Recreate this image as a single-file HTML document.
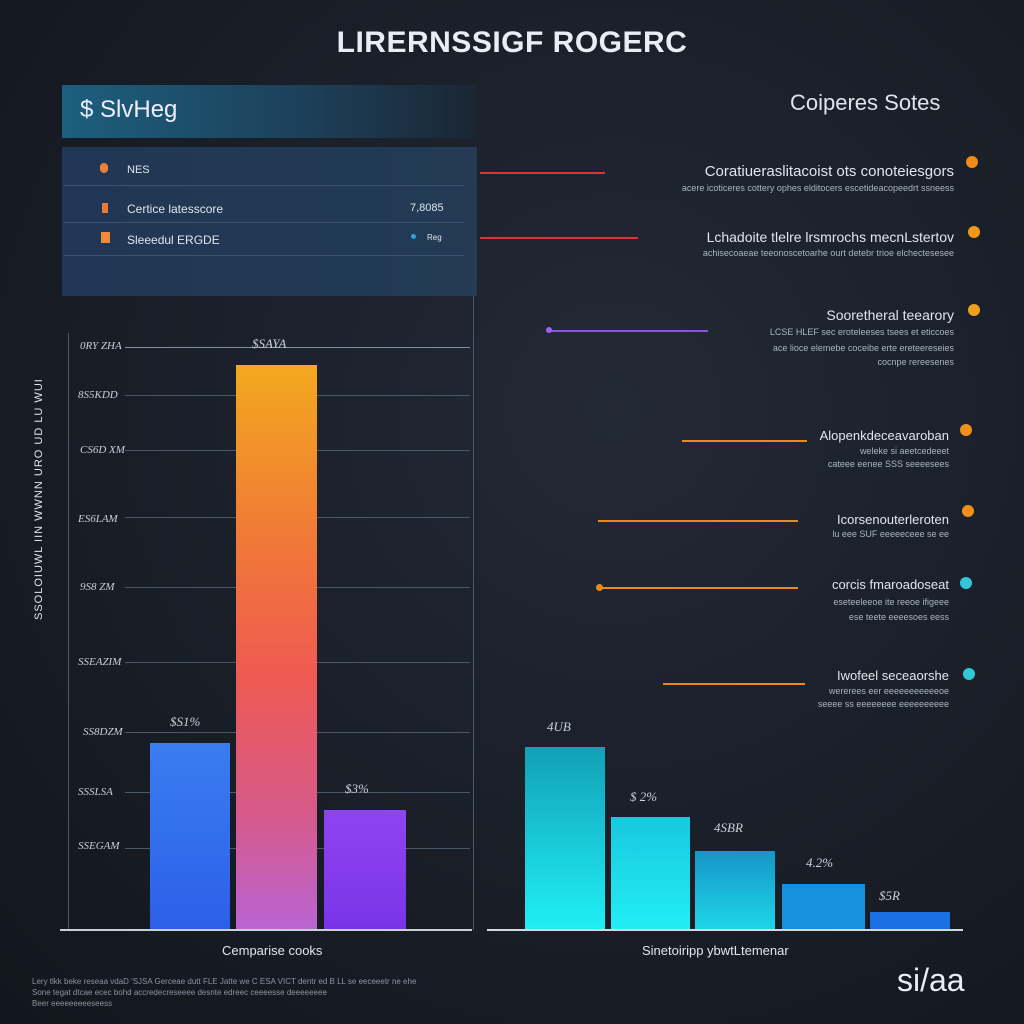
<!DOCTYPE html>
<html><head><style>
body{margin:0;width:1024px;height:1024px;background:radial-gradient(ellipse at 60% 40%,#232a36 0%,#181d26 60%,#12161d 100%);font-family:"Liberation Sans",sans-serif;position:relative;overflow:hidden;color:#dfe6ee}
.a{position:absolute}
.g{position:absolute;height:1px;background:#4a5868;left:125px;width:345px}
.t{position:absolute;font-family:"Liberation Serif",serif;font-style:italic;font-size:11px;color:#c8d0da}
.r{position:absolute;text-align:right;right:70px}
.s{font-size:9px;color:#aab4c0}
.dot{position:absolute;width:12px;height:12px;border-radius:50%}
.ln{position:absolute;height:2px}
</style></head><body>
<div class="a" style="left:0;top:26px;width:1024px;text-align:center;font-size:30px;font-weight:bold;color:#e8eef5;letter-spacing:0.5px">LIRERNSSIGF ROGERC</div>
<div class="a" style="left:62px;top:85px;width:415px;height:53px;background:linear-gradient(90deg,#1c5f7e,#1d3f58 60%,#1a2634)"></div>
<div class="a" style="left:80px;top:96px;font-size:24px;color:#eef">$ SlvHeg</div>
<div class="a" style="left:62px;top:147px;width:415px;height:149px;background:linear-gradient(90deg,#213654,#223955 70%,#243a55)"></div>
<div class="a" style="left:100px;top:163px;width:8px;height:10px;background:#e8803a;border-radius:4px"></div>
<div class="a" style="left:127px;top:164px;font-size:11px">NES</div>
<div class="a" style="left:64px;top:185px;width:400px;height:1px;background:#3d5270"></div>
<div class="a" style="left:102px;top:203px;width:6px;height:10px;background:#e87a3a"></div>
<div class="a" style="left:127px;top:202px;font-size:12px">Certice latesscore</div>
<div class="a" style="left:410px;top:202px;font-size:11px">7,8085</div>
<div class="a" style="left:64px;top:222px;width:400px;height:1px;background:#3d5270"></div>
<div class="a" style="left:101px;top:232px;width:9px;height:11px;background:#f08a3a"></div>
<div class="a" style="left:127px;top:233px;font-size:12px">Sleeedul ERGDE</div>
<div class="a" style="left:411px;top:234px;width:5px;height:5px;background:#2ad;border-radius:50%"></div>
<div class="a" style="left:427px;top:233px;font-size:8px">Reg</div>
<div class="a" style="left:64px;top:255px;width:400px;height:1px;background:#3d5270"></div>
<!-- left chart -->
<div class="a" style="left:68px;top:333px;width:1px;height:597px;background:#4a5868"></div>
<div class="a" style="left:473px;top:296px;width:1px;height:634px;background:#4a5868"></div>
<div class="g" style="top:347px;background:#7f90a4"></div><div class="g" style="top:395px"></div><div class="g" style="top:450px"></div><div class="g" style="top:517px"></div><div class="g" style="top:587px"></div><div class="g" style="top:662px"></div><div class="g" style="top:732px"></div><div class="g" style="top:792px"></div><div class="g" style="top:848px"></div>
<div class="t" style="left:80px;top:340px">0RY ZHA</div>
<div class="t" style="left:78px;top:389px">8S5KDD</div>
<div class="t" style="left:80px;top:444px">CS6D XM</div>
<div class="t" style="left:78px;top:513px">ES6LAM</div>
<div class="t" style="left:80px;top:581px">9S8 ZM</div>
<div class="t" style="left:78px;top:656px">SSEAZIM</div>
<div class="t" style="left:83px;top:726px">SS8DZM</div>
<div class="t" style="left:78px;top:786px">SSSLSA</div>
<div class="t" style="left:78px;top:840px">SSEGAM</div>
<div class="a" style="left:33px;top:620px;transform:rotate(-90deg);transform-origin:0 0;font-size:11px;white-space:nowrap;width:270px;letter-spacing:1px">SSOLOIUWL IIN WWNN URO UD LU WUI</div>
<div class="t" style="left:252px;top:336px;font-size:13px">$SAYA</div>
<div class="a" style="left:150px;top:743px;width:80px;height:187px;background:linear-gradient(#3a7df0,#2c5fe8)"></div>
<div class="a" style="left:236px;top:365px;width:81px;height:565px;background:linear-gradient(#f3a81e,#f07a36 30%,#ef5a52 55%,#d65a8c 80%,#b964d4)"></div>
<div class="a" style="left:324px;top:810px;width:82px;height:120px;background:linear-gradient(#8e44f0,#7a34e8)"></div>
<div class="t" style="left:170px;top:714px;font-size:13px">$S1%</div>
<div class="t" style="left:345px;top:781px;font-size:13px">$3%</div>
<div class="a" style="left:60px;top:929px;width:412px;height:2px;background:#c8d0da"></div>
<div class="a" style="left:222px;top:943px;font-size:13px">Cemparise cooks</div>
<!-- right chart -->
<div class="a" style="left:525px;top:747px;width:80px;height:183px;background:linear-gradient(#12a0b6,#20eff5)"></div>
<div class="a" style="left:611px;top:817px;width:79px;height:113px;background:linear-gradient(#18c8de,#22eef5)"></div>
<div class="a" style="left:695px;top:851px;width:80px;height:79px;background:linear-gradient(#1695c8,#1ed6e8)"></div>
<div class="a" style="left:782px;top:884px;width:83px;height:46px;background:#1592de"></div>
<div class="a" style="left:870px;top:912px;width:80px;height:18px;background:#1a70e0"></div>
<div class="t" style="left:547px;top:719px;font-size:13px">4UB</div>
<div class="t" style="left:630px;top:789px;font-size:13px">$ 2%</div>
<div class="t" style="left:714px;top:820px;font-size:13px">4SBR</div>
<div class="t" style="left:806px;top:855px;font-size:13px">4.2%</div>
<div class="t" style="left:879px;top:888px;font-size:13px">$5R</div>
<div class="a" style="left:487px;top:929px;width:476px;height:2px;background:#d0d8e0"></div>
<div class="a" style="left:642px;top:943px;font-size:13px">Sinetoiripp ybwtLtemenar</div>
<div class="a" style="left:897px;top:962px;font-size:32px;color:#e8eef5">si/aa</div>
<div class="a s" style="left:32px;top:976px;width:600px;line-height:11px;font-size:8px;color:#8894a2">Lery tlkk beke reseaa vdaD 'SJSA Gerceae dutt FLE Jatte we C ESA VICT dentr ed B LL se eeceeetr ne ehe<br>Sone tegat dtcae ecec bohd accredecreseeee desnte edreec ceeeesse deeeeeeee<br>Beer eeeeeeeeeseess</div>
<!-- right annotations -->
<div class="a" style="left:790px;top:90px;font-size:22px;color:#dde4ec">Coiperes Sotes</div>
<div class="ln" style="left:480px;top:172px;width:125px;background:#e0303a"></div>
<div class="ln" style="left:480px;top:237px;width:158px;background:#e0303a"></div>
<div class="ln" style="left:548px;top:330px;width:160px;background:#9050e0"></div>
<div class="a" style="left:546px;top:327px;width:6px;height:6px;border-radius:50%;background:#a060f0"></div>
<div class="ln" style="left:682px;top:440px;width:125px;background:#e88a20"></div>
<div class="ln" style="left:598px;top:520px;width:200px;background:#e88a20"></div>
<div class="ln" style="left:598px;top:587px;width:200px;background:#e88a20"></div>
<div class="a" style="left:596px;top:584px;width:7px;height:7px;border-radius:50%;background:#e88a20"></div>
<div class="ln" style="left:663px;top:683px;width:142px;background:#e88a20"></div>
<div class="dot" style="left:966px;top:156px;background:#f08a1a"></div>
<div class="dot" style="left:968px;top:226px;background:#f09a1a"></div>
<div class="dot" style="left:968px;top:304px;background:#f0a01a"></div>
<div class="dot" style="left:960px;top:424px;background:#f0901a"></div>
<div class="dot" style="left:962px;top:505px;background:#f0901a"></div>
<div class="dot" style="left:960px;top:577px;background:#30c8d8"></div>
<div class="dot" style="left:963px;top:668px;background:#30c8d8"></div>
<div class="a r" style="top:163px;font-size:15px">Coratiueraslitacoist ots conoteiesgors</div>
<div class="a r s" style="top:183px">acere icoticeres cottery ophes elditocers escetideacopeedrt ssneess</div>
<div class="a r" style="top:229px;font-size:14px">Lchadoite tlelre lrsmrochs mecnLstertov</div>
<div class="a r s" style="top:248px">achisecoaeae teeonoscetoarhe ourt detebr trioe elchectesesee</div>
<div class="a r" style="top:307px;font-size:14px">Sooretheral teearory</div>
<div class="a r s" style="top:327px">LCSE HLEF sec eroteleeses tsees et eticcoes</div>
<div class="a r s" style="top:343px">ace lioce elemebe coceibe erte ereteereseies</div>
<div class="a r s" style="top:357px">cocnpe rereesenes</div>
<div class="a r" style="top:428px;font-size:13px;right:75px">Alopenkdeceavaroban</div>
<div class="a r s" style="top:446px;right:75px">weleke si aeetcedeeet</div>
<div class="a r s" style="top:459px;right:75px">cateee eenee SSS seeeesees</div>
<div class="a r" style="top:512px;font-size:13px;right:75px">Icorsenouterleroten</div>
<div class="a r s" style="top:529px;right:75px">lu eee SUF eeeeeceee se ee</div>
<div class="a r" style="top:577px;font-size:13px;right:75px">corcis fmaroadoseat</div>
<div class="a r s" style="top:597px;right:75px">eseteeleeoe ite reeoe ifigeee</div>
<div class="a r s" style="top:612px;right:75px">ese teete eeeesoes eess</div>
<div class="a r" style="top:668px;font-size:13px;right:75px">Iwofeel seceaorshe</div>
<div class="a r s" style="top:686px;right:75px">wererees eer eeeeeeeeeeeoe</div>
<div class="a r s" style="top:699px;right:75px">seeee ss eeeeeeee eeeeeeeeee</div>
</body></html>
